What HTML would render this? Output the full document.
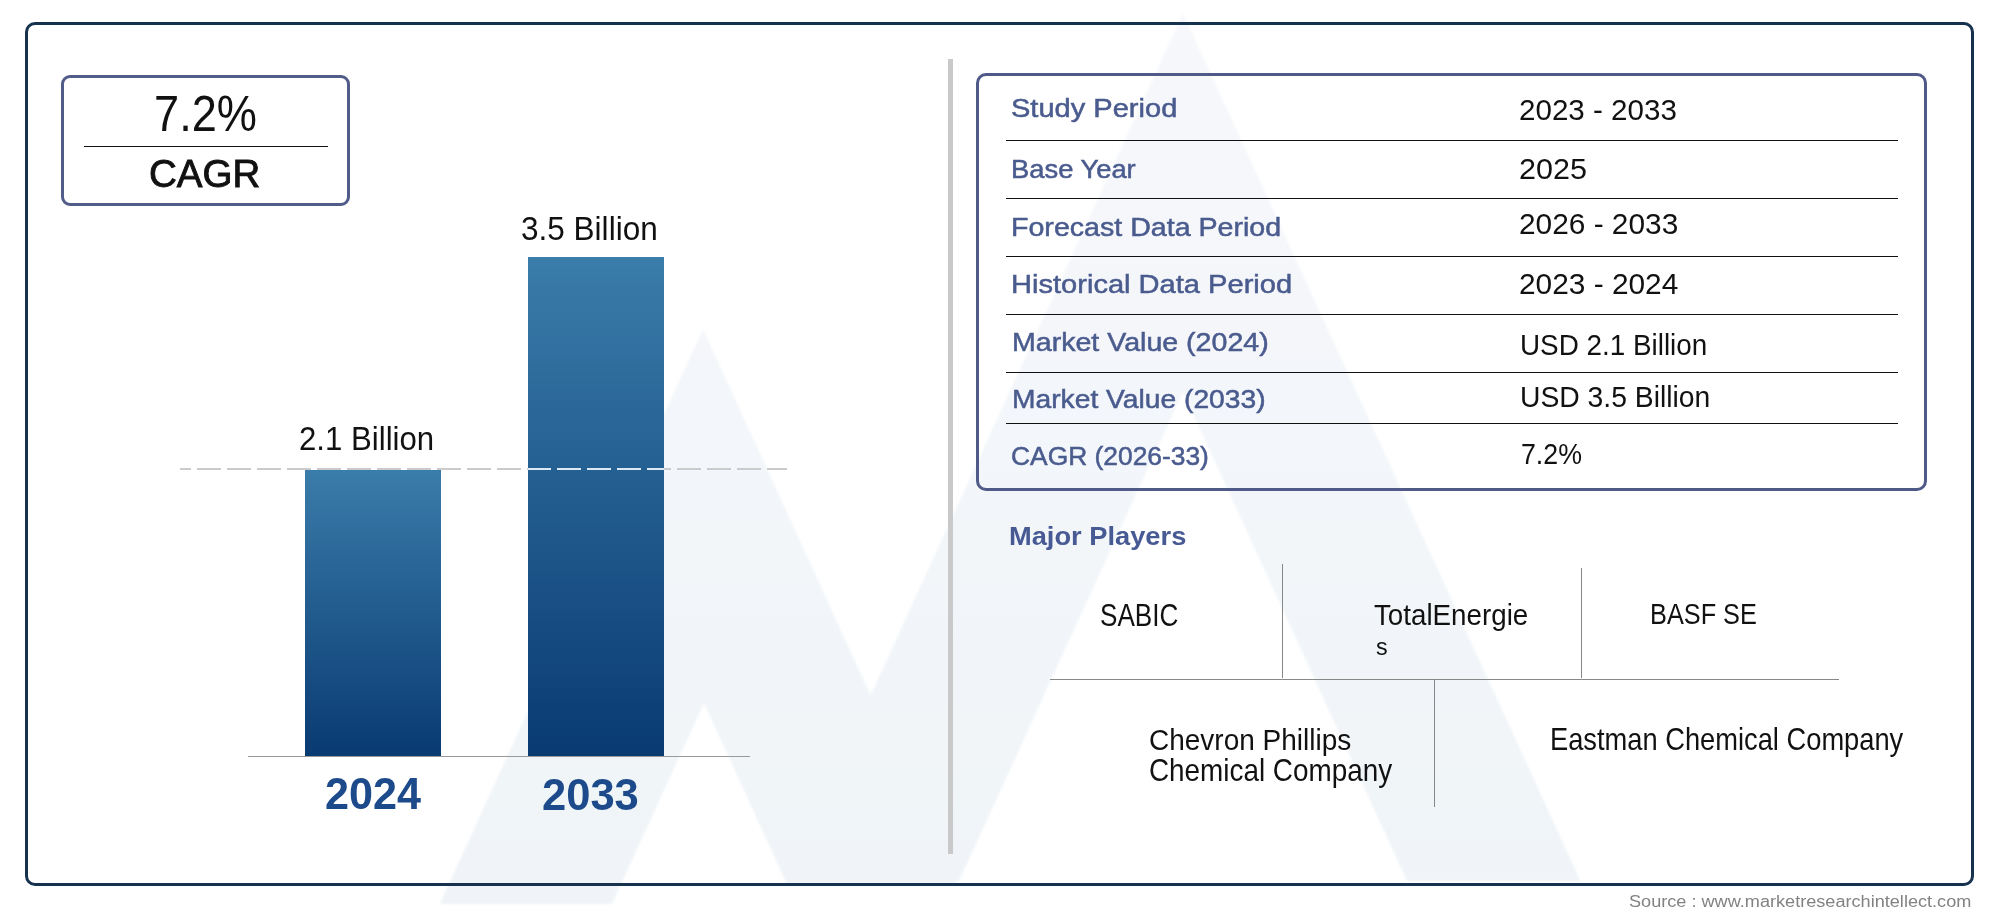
<!DOCTYPE html>
<html><head><meta charset="utf-8">
<style>
html,body{margin:0;padding:0;background:#fff;}
body{width:2000px;height:917px;position:relative;overflow:hidden;font-family:"Liberation Sans",sans-serif;}
.a{position:absolute;box-sizing:border-box;}
.t{position:absolute;white-space:pre;transform-origin:0 0;}
</style></head><body>
<svg class="a" style="left:0;top:0" width="2000" height="917" viewBox="0 0 2000 917">
 <defs><linearGradient id="wm" gradientUnits="userSpaceOnUse" x1="0" y1="13" x2="0" y2="900"><stop offset="0" stop-color="#f6f8fb"/><stop offset="1" stop-color="#f0f4f8"/></linearGradient><filter id="bl" x="-5%" y="-5%" width="110%" height="110%"><feGaussianBlur stdDeviation="1.2"/></filter></defs>
 <g fill="url(#wm)" filter="url(#bl)">
  <polygon points="439.7,904 703,329 957.2,884 786.9,884 704,703 612,904"/>
  <polygon points="785.5,881 1183,13 1580.5,881 1407,881 1183,392 959,881"/>
 </g>
</svg>
<!-- outer frame -->
<div class="a" style="left:25px;top:22px;width:1949px;height:864px;border:3px solid #17324f;border-radius:10px;"></div>
<!-- CAGR box -->
<div class="a" style="left:61px;top:75px;width:289px;height:131px;border:3px solid #525c88;border-radius:9px;"></div>
<div class="a" style="left:84px;top:146px;width:244px;height:1px;background:#111;"></div>
<!-- chart -->
<div class="a" style="left:305px;top:470px;width:136px;height:286px;background:linear-gradient(#3a7caa,#093a72);"></div>
<div class="a" style="left:528px;top:257px;width:136px;height:499px;background:linear-gradient(#3a7caa,#093a72);"></div>
<div class="a" style="left:180px;top:468px;width:607px;height:2px;background:repeating-linear-gradient(90deg,#cbcbcb 0 10.8px,transparent 10.8px 16.8px,#cbcbcb 16.8px 30px);"></div>
<div class="a" style="left:528px;top:468px;width:136px;height:2px;background:repeating-linear-gradient(90deg,#dce9f4 0 22.8px,transparent 22.8px 28.8px,#dce9f4 28.8px 30px);"></div>
<div class="a" style="left:248px;top:756px;width:502px;height:1px;background:#999;"></div>
<!-- divider -->
<div class="a" style="left:948px;top:59px;width:5px;height:795px;background:#c9c9c9;"></div>
<!-- table -->
<div class="a" style="left:976px;top:73px;width:951px;height:418px;border:3px solid #505a88;border-radius:10px;"></div>
<div class="a" style="left:1006px;top:140px;width:892px;height:1px;background:#111;"></div>
<div class="a" style="left:1006px;top:198px;width:892px;height:1px;background:#111;"></div>
<div class="a" style="left:1006px;top:256px;width:892px;height:1px;background:#111;"></div>
<div class="a" style="left:1006px;top:314px;width:892px;height:1px;background:#111;"></div>
<div class="a" style="left:1006px;top:372px;width:892px;height:1px;background:#111;"></div>
<div class="a" style="left:1006px;top:423px;width:892px;height:1px;background:#111;"></div>
<!-- players grid -->
<div class="a" style="left:1282px;top:564px;width:1px;height:114px;background:#888;"></div>
<div class="a" style="left:1581px;top:568px;width:1px;height:110px;background:#888;"></div>
<div class="a" style="left:1050px;top:679px;width:789px;height:1px;background:#888;"></div>
<div class="a" style="left:1434px;top:680px;width:1px;height:127px;background:#888;"></div>
<div class="t" style="left:154.33px;top:88.82px;font-size:50.53px;line-height:50.53px;font-weight:400;color:#111;transform:scaleX(0.8948)">7.2%</div>
<div class="t" style="left:149.46px;top:155.23px;font-size:38.47px;line-height:38.47px;font-weight:400;color:#111;-webkit-text-stroke:0.9px #111;transform:scaleX(1.0007)">CAGR</div>
<div class="t" style="left:520.94px;top:211.60px;font-size:33.37px;line-height:33.37px;font-weight:400;color:#111;transform:scaleX(0.9451)">3.5 Billion</div>
<div class="t" style="left:299.24px;top:422.03px;font-size:33.10px;line-height:33.10px;font-weight:400;color:#111;transform:scaleX(0.9423)">2.1 Billion</div>
<div class="t" style="left:324.71px;top:771.95px;font-size:44.35px;line-height:44.35px;font-weight:700;color:#1d4a8a;transform:scaleX(0.9740)">2024</div>
<div class="t" style="left:541.91px;top:772.53px;font-size:44.50px;line-height:44.50px;font-weight:700;color:#1d4a8a;transform:scaleX(0.9781)">2033</div>
<div class="t" style="left:1011.15px;top:96.38px;font-size:25.18px;line-height:25.18px;font-weight:400;color:#4a5b8e;-webkit-text-stroke:0.5px #4a5b8e;transform:scaleX(1.1538)">Study Period</div>
<div class="t" style="left:1010.80px;top:156.57px;font-size:25.19px;line-height:25.19px;font-weight:400;color:#4a5b8e;-webkit-text-stroke:0.5px #4a5b8e;transform:scaleX(1.0858)">Base Year</div>
<div class="t" style="left:1010.91px;top:214.98px;font-size:25.18px;line-height:25.18px;font-weight:400;color:#4a5b8e;-webkit-text-stroke:0.5px #4a5b8e;transform:scaleX(1.1358)">Forecast Data Period</div>
<div class="t" style="left:1010.87px;top:272.38px;font-size:25.18px;line-height:25.18px;font-weight:400;color:#4a5b8e;-webkit-text-stroke:0.5px #4a5b8e;transform:scaleX(1.1550)">Historical Data Period</div>
<div class="t" style="left:1011.51px;top:330.38px;font-size:25.18px;line-height:25.18px;font-weight:400;color:#4a5b8e;-webkit-text-stroke:0.5px #4a5b8e;transform:scaleX(1.1347)">Market Value (2024)</div>
<div class="t" style="left:1011.54px;top:386.78px;font-size:25.18px;line-height:25.18px;font-weight:400;color:#4a5b8e;-webkit-text-stroke:0.5px #4a5b8e;transform:scaleX(1.1212)">Market Value (2033)</div>
<div class="t" style="left:1010.69px;top:444.18px;font-size:25.18px;line-height:25.18px;font-weight:400;color:#4a5b8e;-webkit-text-stroke:0.5px #4a5b8e;transform:scaleX(1.0478)">CAGR (2026-33)</div>
<div class="t" style="left:1518.72px;top:94.76px;font-size:29.57px;line-height:29.57px;font-weight:400;color:#111;transform:scaleX(1.0004)">2023 - 2033</div>
<div class="t" style="left:1518.67px;top:154.39px;font-size:29.43px;line-height:29.43px;font-weight:400;color:#111;transform:scaleX(1.0371)">2025</div>
<div class="t" style="left:1518.72px;top:209.21px;font-size:29.28px;line-height:29.28px;font-weight:400;color:#111;transform:scaleX(1.0193)">2026 - 2033</div>
<div class="t" style="left:1518.52px;top:268.54px;font-size:29.71px;line-height:29.71px;font-weight:400;color:#111;transform:scaleX(1.0046)">2023 - 2024</div>
<div class="t" style="left:1519.77px;top:330.20px;font-size:30.00px;line-height:30.00px;font-weight:400;color:#111;transform:scaleX(0.9281)">USD 2.1 Billion</div>
<div class="t" style="left:1519.73px;top:381.58px;font-size:30.14px;line-height:30.14px;font-weight:400;color:#111;transform:scaleX(0.9390)">USD 3.5 Billion</div>
<div class="t" style="left:1520.86px;top:439.08px;font-size:30.14px;line-height:30.14px;font-weight:400;color:#111;transform:scaleX(0.8877)">7.2%</div>
<div class="t" style="left:1008.90px;top:524.19px;font-size:25.05px;line-height:25.05px;font-weight:700;color:#475a94;transform:scaleX(1.0885)">Major Players</div>
<div class="t" style="left:1099.51px;top:599.64px;font-size:30.43px;line-height:30.43px;font-weight:400;color:#111;transform:scaleX(0.8584)">SABIC</div>
<div class="t" style="left:1374.05px;top:599.58px;font-size:30.14px;line-height:30.14px;font-weight:400;color:#111;transform:scaleX(0.9211)">TotalEnergie</div>
<div class="t" style="left:1375.50px;top:634.63px;font-size:24.41px;line-height:24.41px;font-weight:400;color:#111;transform:scaleX(0.9527)">s</div>
<div class="t" style="left:1649.57px;top:599.08px;font-size:30.14px;line-height:30.14px;font-weight:400;color:#111;transform:scaleX(0.8399)">BASF SE</div>
<div class="t" style="left:1149.20px;top:724.97px;font-size:30.27px;line-height:30.27px;font-weight:400;color:#111;transform:scaleX(0.9252)">Chevron Phillips</div>
<div class="t" style="left:1149.21px;top:755.68px;font-size:30.96px;line-height:30.96px;font-weight:400;color:#111;transform:scaleX(0.9000)">Chemical Company</div>
<div class="t" style="left:1549.82px;top:724.33px;font-size:30.62px;line-height:30.62px;font-weight:400;color:#111;transform:scaleX(0.8912)">Eastman Chemical Company</div>
<div class="t" style="left:1629.49px;top:892.75px;font-size:17.06px;line-height:17.06px;font-weight:400;color:#828282;transform:scaleX(1.0628)">Source : www.marketresearchintellect.com</div>
</body></html>
